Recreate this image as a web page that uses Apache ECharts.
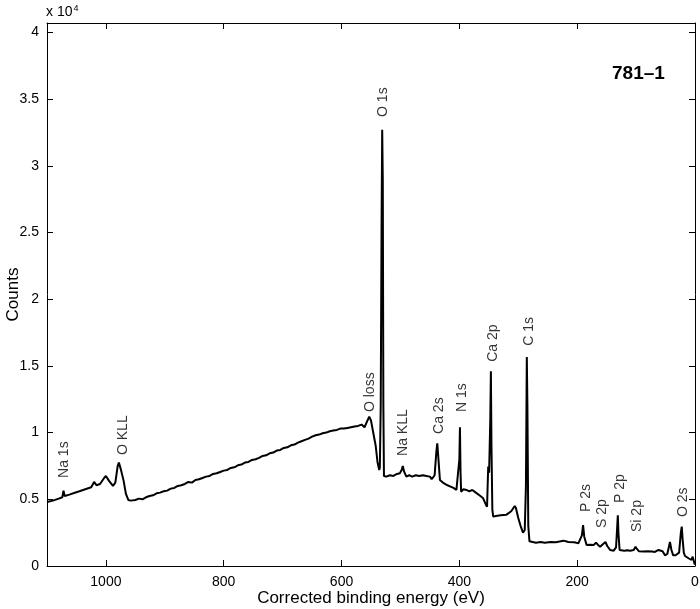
<!DOCTYPE html>
<html>
<head>
<meta charset="utf-8">
<script src="https://cdn.jsdelivr.net/npm/echarts@6/dist/echarts.min.js"></script>
<style>
html, body { margin: 0; padding: 0; background: #fff; }
#chart { width: 700px; height: 609px; }
</style>
</head>
<body>
<div id="chart"></div>
<script>
// binding energy (eV) and counts
var energy = [
	1100, 1090, 1080, 1074, 1072, 1070, 1062, 1054, 1045, 1035, 1025, 1020, 1016, 1010, 1003, 1000,
	995, 988, 984, 980, 978, 975, 970, 966, 962, 958,
	950, 944, 938, 932, 926, 920, 914, 908, 902, 896, 890, 884, 878, 872, 866, 860, 854, 848,
	842, 836, 830, 824, 818, 812, 806, 800, 794, 788, 782, 776, 770, 764, 758, 752, 746, 740,
	734, 728, 722, 716, 710, 704, 698, 692, 686, 680, 674, 668, 662, 656, 650, 644, 638, 632,
	626, 620, 614, 608, 602, 596, 590, 584, 578, 572, 566, 561, 557, 553, 550, 546, 542, 539,
	536, 535, 533.5, 532, 531, 530, 529, 528,
	524, 518, 512, 506, 501, 498, 496, 494, 490, 485, 480, 474, 468, 462, 456, 450, 447, 442,
	439, 437.5, 436, 433, 428, 421, 415, 410, 405, 402, 400, 399, 398, 397, 393, 388, 383, 378,
	372, 366, 360, 355, 353, 352, 351, 349.5, 347.5, 346.5, 345.5, 344, 342.5, 338, 330, 320,
	312, 306, 304, 300, 296, 292, 289, 287, 285.5, 284.5, 283, 281, 278, 270, 262, 255, 245,
	236, 228, 223, 215, 205, 198, 195, 192, 190, 188, 184, 178, 172, 168, 165, 161, 156, 152,
	149, 144, 138, 134, 132, 131, 130, 128, 125, 120, 115, 110, 104, 101, 99, 95, 88, 80, 73,
	68, 62, 59, 55, 51, 47, 44, 42.5, 40, 37, 33, 27, 24, 22.5, 21, 19, 17, 14, 11, 8, 6, 4, 3, 1, 0
];
var counts = [
	4800, 4900, 5050, 5150, 5650, 5250, 5350, 5470, 5600, 5750, 5900, 6300, 6050, 6150, 6600, 6750,
	6400, 6000, 6250, 7500, 7750, 7300, 6400, 5400, 4950, 4900,
	4950, 5050, 5000, 5150, 5250, 5300, 5450, 5500, 5600, 5650, 5800, 5850, 6000, 6050, 6150, 6300, 6250, 6450,
	6500, 6600, 6700, 6750, 6900, 6950, 7050, 7150, 7200, 7350, 7400, 7550, 7600, 7750, 7800, 7950, 8000, 8100,
	8250, 8300, 8450, 8500, 8650, 8700, 8850, 8900, 9050, 9100, 9250, 9350, 9450, 9550, 9700, 9800, 9850, 9950,
	10000, 10100, 10150, 10200, 10300, 10300, 10350, 10400, 10450, 10500, 10600, 10400, 10800, 11200, 10900, 9950, 9000, 7800,
	7200, 7400, 12000, 26000, 32700, 29000, 12000, 6750,
	6700, 6800, 6750, 6900, 6950, 7200, 7500, 7100, 6700, 6800, 6700, 6800, 6750, 6800, 6750, 6700, 6500, 6800,
	8600, 9200, 8300, 6450, 6250, 6070, 5950, 5850, 5700, 5600, 8000, 10400, 7000, 5570, 5750, 5700, 5600, 5700,
	5500, 5300, 5100, 4600, 4450, 6000, 7450, 7000, 11000, 14600, 9000, 4200, 3700, 3750, 3800, 3850,
	4100, 4500, 4350, 3600, 3000, 2500, 2700, 6000, 15670, 12000, 3000, 1850, 1800, 1750, 1800, 1750, 1800,
	1780, 1850, 1900, 1800, 1780, 1700, 1700, 2300, 3070, 2200, 1570, 1600, 1580, 1750, 1600, 1450, 1650, 1800,
	1500, 1200, 1150, 1400, 3000, 3800, 2500, 1200, 1150, 1150, 1180, 1150, 1200, 1450, 1300, 1100, 1080, 1100, 1080,
	1050, 1200, 1300, 1100, 800, 900, 1500, 1800, 1200, 800, 800, 1000, 2500, 2950, 2000, 1000, 750, 700, 580, 500, 450, 700, 650, 200, 100
];

// peak labels: name, energy, height where the text starts
var peakNames = ['Na 1s', 'O KLL', 'O 1s', 'O loss', 'Na KLL', 'Ca 2s', 'N 1s', 'Ca 2p', 'C 1s', 'P 2s', 'S 2p', 'P 2p', 'Si 2p', 'O 2s'];
var peakEnergy = [1071, 971, 530, 552, 496, 435, 396, 343, 282, 185, 158, 127, 98, 20];
var peakLabelY = [6600, 8320, 33660, 11540, 8250, 9900, 11540, 15300, 16500, 4050, 2850, 4720, 2550, 3670];

var spectrum = [];
for (var i = 0; i < energy.length; i++) {
	spectrum.push([energy[i], counts[i]]);
}
var labelPts = [];
for (var j = 0; j < peakNames.length; j++) {
	labelPts.push({ value: [peakEnergy[j], peakLabelY[j]], name: peakNames[j] });
}

var font = 'Liberation Sans, Arial, Helvetica, sans-serif';
var chart = echarts.init(document.getElementById('chart'));

var option = {
	animation: false,
	backgroundColor: '#fff',
	textStyle: { fontFamily: font, color: '#000' },
	title: {
		text: '781\u20131',
		left: 607,
		top: 59,
		textStyle: { fontFamily: font, fontSize: 19, fontWeight: 'bold', color: '#000' }
	},
	grid: { left: 47, right: 5, top: 23, bottom: 43, containLabel: false, outerBoundsMode: 'none' },
	xAxis: [{
		type: 'value',
		min: 0,
		max: 1100,
		interval: 200,
		inverse: true,
		name: 'Corrected binding energy (eV)',
		nameLocation: 'middle',
		nameGap: 24,
		nameMoveOverlap: false,
		nameTextStyle: { fontFamily: font, fontSize: 17, color: '#000' },
		axisLine: { onZero: false, lineStyle: { color: '#000', width: 1 } },
		axisTick: { inside: true, length: 6, lineStyle: { color: '#000' } },
		axisLabel: {
			fontFamily: font, fontSize: 14, color: '#000', margin: 9, showMaxLabel: false,
			formatter: function (v) { return String(v); }
		},
		splitLine: { show: false }
	}, {
		type: 'value',
		position: 'top',
		min: 0,
		max: 1100,
		interval: 200,
		inverse: true,
		axisLine: { onZero: false, lineStyle: { color: '#000', width: 1 } },
		axisTick: { inside: true, length: 6, lineStyle: { color: '#000' } },
		axisLabel: { show: false },
		splitLine: { show: false }
	}],
	yAxis: [{
		type: 'value',
		min: 0,
		max: 40700,
		interval: 5000,
		name: 'Counts',
		nameLocation: 'middle',
		nameGap: 25,
		nameMoveOverlap: false,
		nameTextStyle: { fontFamily: font, fontSize: 17, color: '#000' },
		axisLine: { onZero: false, lineStyle: { color: '#000', width: 1 } },
		axisTick: { inside: true, length: 6, lineStyle: { color: '#000' } },
		axisLabel: {
			fontFamily: font, fontSize: 14, color: '#000', margin: 8, showMaxLabel: false,
			formatter: function (v) { return String(v / 10000); }
		},
		splitLine: { show: false }
	}, {
		type: 'value',
		position: 'right',
		min: 0,
		max: 40700,
		interval: 5000,
		axisLine: { onZero: false, lineStyle: { color: '#000', width: 1 } },
		axisTick: { inside: true, length: 6, lineStyle: { color: '#000' } },
		axisLabel: { show: false },
		splitLine: { show: false }
	}],
	graphic: [{
		type: 'text',
		left: 46,
		top: 4,
		style: {
			text: 'x 10{s|4}',
			font: '14px ' + font,
			fill: '#000',
			rich: { s: { fontSize: 9, fontFamily: font, verticalAlign: 'top', padding: [0, 0, 8, 1] } }
		}
	}],
	series: [{
		type: 'line',
		data: spectrum,
		showSymbol: false,
		symbol: 'none',
		lineStyle: { color: '#000', width: 2 },
		z: 3
	}, {
		type: 'scatter',
		data: labelPts,
		symbolSize: 1,
		itemStyle: { color: 'rgba(0,0,0,0)' },
		silent: true,
		labelLayout: { hideOverlap: false },
		label: {
			show: true,
			position: 'inside',
			rotate: 90,
			align: 'left',
			verticalAlign: 'middle',
			fontFamily: font,
			fontSize: 14,
			color: '#000',
			formatter: function (p) { return p.name; }
		},
		z: 4
	}]
};

chart.setOption(option);
</script>
</body>
</html>
